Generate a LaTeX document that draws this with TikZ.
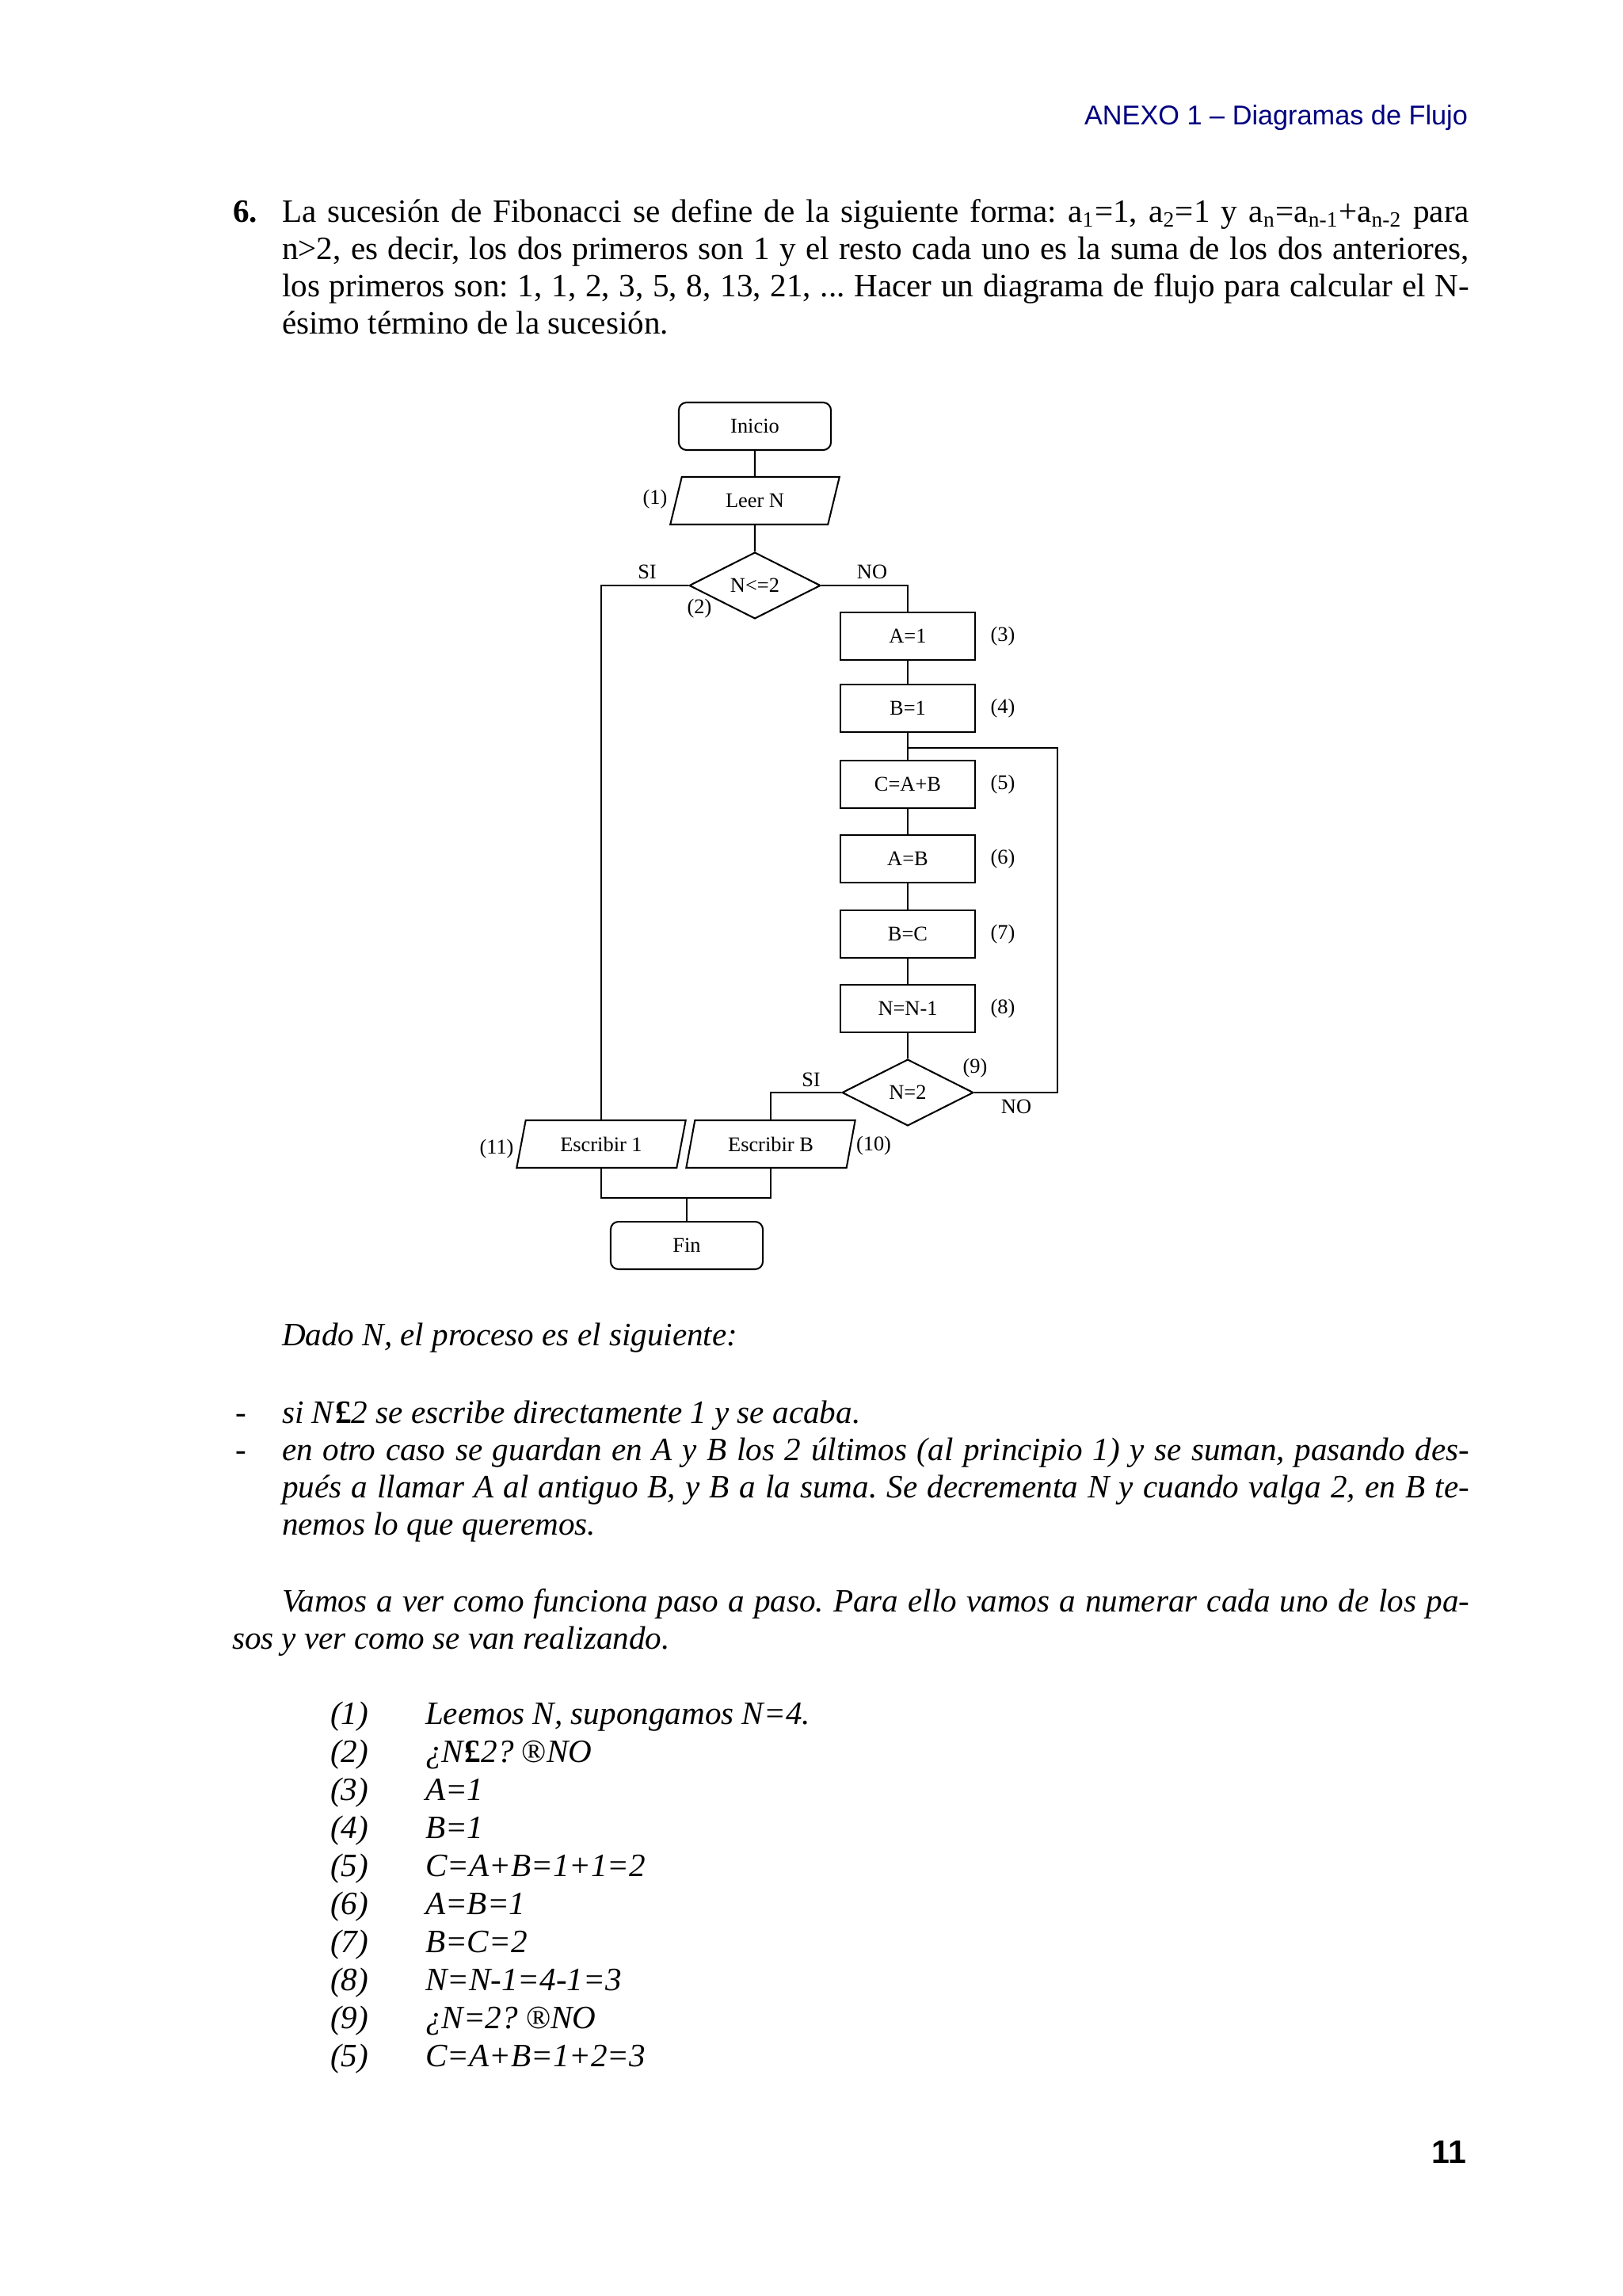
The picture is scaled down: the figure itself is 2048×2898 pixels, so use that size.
\documentclass[tikz,border=0pt]{standalone}
\usepackage{fontspec}
\setmainfont{Liberation Serif}
\newfontfamily\arial[Ligatures=TeX]{Liberation Sans}
\usetikzlibrary{shapes.geometric,positioning}
\definecolor{anexoblue}{RGB}{0,0,128}
\newcommand{\diagfont}{\fontsize{7.7}{9}\selectfont}
\newcommand{\textofont}{\fontsize{12}{13.8}\selectfont}
\frenchspacing

\begin{document}
\begin{tikzpicture}[
     x = 0.010254cm, % one pixel of the page
     y = -0.010254cm,
     semithick % line style
 ]

 \tikzstyle{terminal} = [
     draw = black,
     rounded corners = 1mm,
     minimum width = 1.97cm,
     minimum height = 0.615cm,
     inner sep = 0pt,
     font = \diagfont
 ]
 \tikzstyle{process} = [
     draw = black,
     minimum width = 1.743cm,
     minimum height = 0.615cm,
     inner sep = 0pt,
     font = \diagfont
 ]
 \tikzstyle{io} = [
     draw = black,
     trapezium,
     trapezium left angle = 71.6,
     trapezium right angle = 108.4,
     trapezium stretches = true,
     minimum width = 2.19cm,
     minimum height = 0.615cm,
     inner sep = 0pt,
     font = \diagfont
 ]
 \tikzstyle{decision} = [
     draw = black,
     diamond,
     minimum width = 1.70cm,
     minimum height = 0.86cm,
     inner sep = 0pt,
     font = \diagfont
 ]
 \tikzstyle{tag} = [
     inner sep = 0pt,
     font = \diagfont
 ]
 \tikzstyle{parrafo} = [
     anchor = base west,
     inner sep = 0pt,
     align = justify,
     font = \textofont
 ]

 \useasboundingbox[fill = white] (0,0) rectangle (2048,2898);

 % header and page number
 \node[anchor = base east, inner sep = 0pt, text = anexoblue,
     font = \arial\fontsize{10}{12}\selectfont] (cabecera) at (1854,157)
     {ANEXO 1 – Diagramas de Flujo};
 \node[anchor = base east, inner sep = 0pt,
     font = \arial\bfseries\fontsize{12}{14}\selectfont] (pagina) at (1852,2730) {11};

 % statement
 \node[parrafo, font = \textofont\bfseries] (num6) at (293,280) {6.};
 \node[parrafo, text width = 15.37cm] (enunciado) at (355,280)
     {La sucesión de Fibonacci se define de la siguiente forma: a\textsubscript{1}=1, a\textsubscript{2}=1 y a\textsubscript{n}=a\textsubscript{n-1}+a\textsubscript{n-2} para\linebreak
      n>2, es decir, los dos primeros son 1 y el resto cada uno es la suma de los dos anteriores,\linebreak
      los primeros son: 1, 1, 2, 3, 5, 8, 13, 21, ... Hacer un diagrama de flujo para calcular el N-\linebreak
      ésimo término de la sucesión.};

 % flow chart
 \node[terminal] (inicio) at (953,538) {Inicio};
 \node[io] (leer) at (953,632) {Leer N};
 \node[decision] (cond1) at (953,739) {N<=2};
 \node[process] (a1) at (1146,803) {A=1};
 \node[process] (b1) at (1146,894) {B=1};
 \node[process] (suma) at (1146,990) {C=A+B};
 \node[process] (ab) at (1146,1084) {A=B};
 \node[process] (bc) at (1146,1179) {B=C};
 \node[process] (dec) at (1146,1273) {N=N-1};
 \node[decision] (cond2) at (1146,1379) {N=2};
 \node[io] (esc1) at (759,1444) {Escribir 1};
 \node[io] (escB) at (973,1444) {Escribir B};
 \node[terminal] (fin) at (867,1572) {Fin};
 \coordinate (lazo) at (1146,944);
 \coordinate (union) at (867,1512);

 \draw (inicio) -- (leer);
 \draw (leer) -- (cond1);
 \draw (cond1.west) -| (esc1.north);
 \draw (cond1.east) -| (a1.north);
 \draw (a1) -- (b1);
 \draw (b1) -- (suma);
 \draw (suma) -- (ab);
 \draw (ab) -- (bc);
 \draw (bc) -- (dec);
 \draw (dec) -- (cond2);
 \draw (cond2.east) -- ++(105,0) |- (lazo);
 \draw (cond2.west) -| (escB.north);
 \draw (esc1.south) |- (union) -| (escB.south);
 \draw (union) -- (fin);

 \node[tag] (t1) at (827,630) {(1)};
 \node[tag] (t2) at (883,768) {(2)};
 \node[tag] (si1) at (817,722) {SI};
 \node[tag] (no1) at (1101,722) {NO};
 \foreach \n/\caja in {3/a1, 4/b1, 5/suma, 6/ab, 7/bc, 8/dec}
     \node[tag, right = 0.18cm of \caja] (t\n) {(\n)};
 \node[tag] (t9) at (1231,1348) {(9)};
 \node[tag] (si2) at (1024,1363) {SI};
 \node[tag] (no2) at (1283,1397) {NO};
 \node[tag] (t10) at (1103,1446) {(10)};
 \node[tag] (t11) at (627,1450) {(11)};

 % explanation
 \node[parrafo, font = \textofont\itshape] (dado) at (355,1698)
     {Dado N, el proceso es el siguiente:};
 \node[parrafo] (guion1) at (296,1796) {-};
 \node[parrafo, font = \textofont\itshape, text width = 15.37cm] (caso1) at (355,1796)
     {si N\textup{\textbf{£}}2 se escribe directamente 1 y se acaba.};
 \node[parrafo] (guion2) at (296,1843) {-};
 \node[parrafo, font = \textofont\itshape, text width = 15.37cm] (caso2) at (355,1843)
     {en otro caso se guardan en A y B los 2 últimos (al principio 1) y se suman, pasando des-\linebreak
      pués a llamar A al antiguo B, y B a la suma. Se decrementa N y cuando valga 2, en B te-\linebreak
      nemos lo que queremos.};
 \node[parrafo, font = \textofont\itshape, text width = 16.02cm] (vamos) at (292,2034)
     {\hspace*{0.646cm}Vamos a ver como funciona paso a paso. Para ello vamos a numerar cada uno de los pa-\linebreak
      sos y ver como se van realizando.};

 % steps
 \foreach \num/\paso [count = \i] in {
     1/{Leemos N, supongamos N=4.},
     2/{¿N\textup{\textbf{£}}2?\ \textup{®}NO},
     3/{A=1},
     4/{B=1},
     5/{C=A+B=1+1=2},
     6/{A=B=1},
     7/{B=C=2},
     8/{N=N-1=4-1=3},
     9/{¿N=2?\ \textup{®}NO},
     5/{C=A+B=1+2=3}}
 {
     \node[parrafo, font = \textofont\itshape] (num-\i) at (416,{2176+48.1*(\i-1)}) {(\num)};
     \node[parrafo, font = \textofont\itshape] (paso-\i) at (536,{2176+48.1*(\i-1)}) {\paso};
 }
\end{tikzpicture}
\end{document}
